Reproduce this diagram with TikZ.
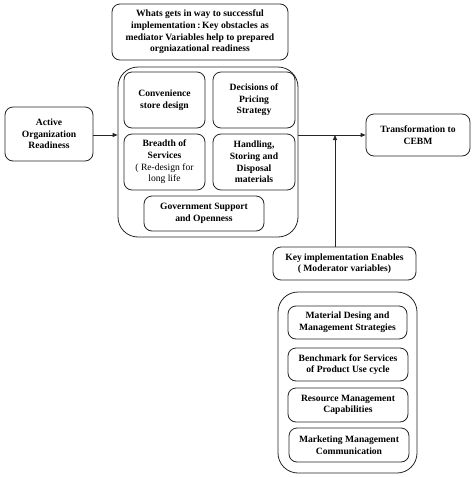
\documentclass[tikz,border=0pt]{standalone}
\usepackage{fontspec}
\setmainfont{Liberation Serif}
\usetikzlibrary{arrows.meta}
\begin{document}
\begin{tikzpicture}[x=1pt,y=-1pt,
  box/.style={draw=black!85, line width=0.8pt, rounded corners=8pt, inner sep=0pt, align=center,
    font=\fontsize{9.6}{11.6}\selectfont\bfseries},
  bigbox/.style={draw=black!85, line width=0.8pt, rounded corners=20pt, inner sep=0pt},
  conn/.style={draw=black!85, line width=0.8pt, -{Triangle[length=5pt,width=4pt]}}]
\useasboundingbox (0,0) rectangle (474,477);
\fill[white] (0,0) rectangle (474,477);
\node[box, minimum width=176pt, minimum height=56pt] (top) at (200,32)
  {Whats gets in way to successful\\implementation\,:\,Key obstacles as\\mediator Variables help to prepared\\orgniazational readiness};
\node[bigbox, minimum width=180pt, minimum height=170pt] (mid) at (208,152) {};
\node[box, minimum width=81pt, minimum height=56pt] (conv) at (164.5,100) {Convenience\\store design};
\node[box, minimum width=82pt, minimum height=56pt] (dec) at (254,100) {Decisions of\\Pricing\\Strategy};
\node[box, minimum width=81pt, minimum height=56pt] (bre) at (164.5,162) {Breadth of\\Services\\{\mdseries ( Re-design for}\\{\mdseries long life}};
\node[box, minimum width=82pt, minimum height=56pt] (han) at (254,162) {Handling,\\Storing and\\Disposal\\materials};
\node[box, minimum width=120pt, minimum height=35pt] (gov) at (204,213.5) {Government Support\\and Openness};
\node[box, minimum width=88pt, minimum height=54pt] (act) at (49,134) {Active\\Organization\\Readiness};
\node[box, minimum width=104pt, minimum height=42pt] (tra) at (418,135) {Transformation to\\CEBM};
\node[box, minimum width=143pt, minimum height=33pt] (key) at (344.5,263.5) {Key implementation Enables\\( Moderator variables)};
\node[bigbox, minimum width=139pt, minimum height=181pt] (low) at (347.5,382.5) {};
\node[box, minimum width=119pt, minimum height=33pt] (mat) at (347.5,322.5) {Material Desing and\\Management Strategies};
\node[box, minimum width=120pt, minimum height=33pt] (ben) at (348,364.5) {Benchmark for Services\\of Product Use cycle};
\node[box, minimum width=120pt, minimum height=34pt] (res) at (348,405) {Resource Management\\Capabilities};
\node[box, minimum width=120pt, minimum height=34pt] (mar) at (349,445) {Marketing Management\\Communication};
\coordinate (j) at (335,135);
\draw[conn] (act.east |- j) -- (mid.west |- j);
\draw[conn] (mid.east |- j) -- (tra.west |- j);
\draw[conn] (j |- key.north) -- (j);
\end{tikzpicture}
\end{document}
